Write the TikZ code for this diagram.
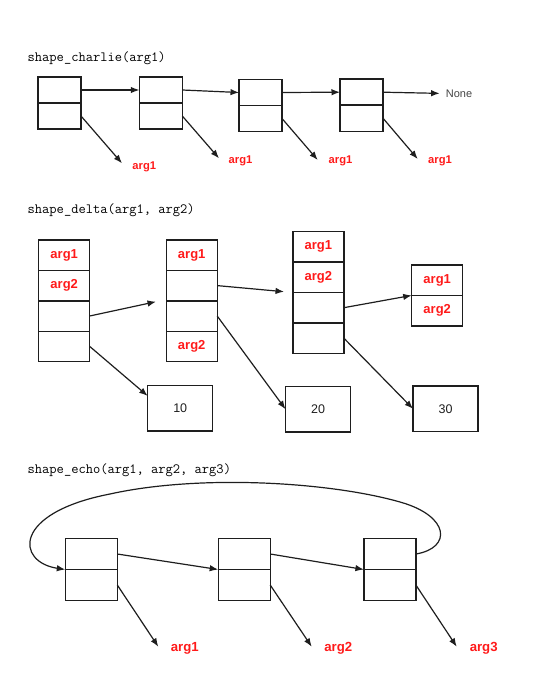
\documentclass[tikz,border=0pt]{standalone}
\usepackage{fontspec}
\setsansfont{Liberation Sans}
\usetikzlibrary{arrows.meta,calc}
\definecolor{ln}{HTML}{1E1E1E}
\definecolor{argred}{HTML}{FF1A1A}
\definecolor{nonegray}{HTML}{444444}
\begin{document}
\begin{tikzpicture}[x=1pt,y=-1pt,
  cell/.style={draw=ln, line width=1.4pt, inner sep=0pt, outer sep=0pt},
  cc/.style={cell, minimum width=43pt, minimum height=26pt},
  dc/.style={cell, minimum width=51pt, minimum height=30.4pt},
  ec/.style={cell, minimum width=52pt, minimum height=31pt},
  vbox/.style={cell, minimum width=65pt, minimum height=45.3pt, text=ln, font=\sffamily\fontsize{12.5}{14}\selectfont},
  arr/.style={draw=ln, line width=1.2pt, -{Latex[length=8.5pt,width=6.5pt]}},
  titletext/.style={anchor=base west, inner sep=0pt, font=\ttfamily\fontsize{14.1}{16}\selectfont},
  labc/.style={text=argred, inner sep=0pt, font=\sffamily\bfseries\fontsize{11.2}{12}\selectfont},
  labd/.style={text=argred, inner sep=0pt, font=\sffamily\bfseries\fontsize{13}{14}\selectfont},
  labe/.style={text=argred, inner sep=0pt, font=\sffamily\bfseries\fontsize{13.2}{14}\selectfont},
]
\useasboundingbox (0,0) rectangle (545,674);

% ---------------- shape_charlie ----------------
\node[titletext] (t1) at (27.5,62) {shape\_charlie(arg1)};
\node[cc] (c1a) at (59.5,90) {};
\node[cc] (c1b) at (59.5,116) {};
\node[cc] (c2a) at (160.8,90) {};
\node[cc] (c2b) at (160.8,116) {};
\node[cc] (c3a) at (260.5,92.5) {};
\node[cc] (c3b) at (260.5,118.5) {};
\node[cc] (c4a) at (361.5,92.2) {};
\node[cc] (c4b) at (361.5,118.2) {};
\node[inner sep=0pt, text=nonegray, font=\sffamily\fontsize{11}{12}\selectfont] (none) at (459,93.5) {None};

\node[labc] (lc1) at (144.3,166.5) {arg1};
\node[labc] (lc2) at (240.5,161) {arg1};
\node[labc] (lc3) at (340.5,160.5) {arg1};
\node[labc] (lc4) at (440,160.5) {arg1};
\coordinate (p1) at (122,163.3);
\coordinate (p2) at (219,158.3);
\coordinate (p3) at (317.7,160);
\coordinate (p4) at (417.7,159);

\draw[arr] (c1a.east) -- (c2a.west);
\draw[arr] (c2a.east) -- (c3a.west);
\draw[arr] (c3a.east) -- (c4a.west);
\draw[arr, shorten >=6pt] (c4a.east) -- (none.west);
\draw[arr] (c1b.east) -- (p1);
\draw[arr] (c2b.east) -- (p2);
\draw[arr] (c3b.east) -- (p3);
\draw[arr] (c4b.east) -- (p4);

% ---------------- shape_delta ----------------
\node[titletext] (t2) at (27.5,213.5) {shape\_delta(arg1, arg2)};
\node[dc, labd] (d1a) at (64.2,255.2) {arg1};
\node[dc, labd] (d1b) at (64.2,285.6) {arg2};
\node[dc] (d1c) at (64.2,316) {};
\node[dc] (d1d) at (64.2,346.4) {};

\node[dc, labd] (d2a) at (191.7,255.2) {arg1};
\node[dc] (d2b) at (191.7,285.6) {};
\node[dc] (d2c) at (191.7,316) {};
\node[dc, labd] (d2d) at (191.7,346.4) {arg2};

\node[dc, labd] (d3a) at (318.3,246.9) {arg1};
\node[dc, labd] (d3b) at (318.3,277.3) {arg2};
\node[dc] (d3c) at (318.3,307.7) {};
\node[dc] (d3d) at (318.3,338.1) {};

\node[dc, labd] (d4a) at (437.2,280.2) {arg1};
\node[dc, labd] (d4b) at (437.2,310.6) {arg2};

\node[vbox] (v10) at (180.2,408.4) {10};
\node[vbox] (v20) at (318,409.2) {20};
\node[vbox] (v30) at (445.5,408.8) {30};

\coordinate (q1) at (156,301.7);
\coordinate (q2) at (284,291.7);

\draw[arr] (d1c.east) -- (q1);
\draw[arr] (d1d.east) -- (v10.159);
\draw[arr] (d2b.east) -- (q2);
\draw[arr] (d2c.east) -- (v20.west);
\draw[arr] (d3c.east) -- (d4a.south west);
\draw[arr] (d3d.east) -- (v30.west);

% ---------------- shape_echo ----------------
\node[titletext] (t3) at (27.5,473.5) {shape\_echo(arg1, arg2, arg3)};
\node[ec] (e1a) at (91.3,554) {};
\node[ec] (e1b) at (91.3,585) {};
\node[ec] (e2a) at (244.2,554) {};
\node[ec] (e2b) at (244.2,585) {};
\node[ec] (e3a) at (389.9,554) {};
\node[ec] (e3b) at (389.9,585) {};

\node[labe] (le1) at (184.8,648) {arg1};
\node[labe] (le2) at (338.3,648) {arg2};
\node[labe] (le3) at (483.7,648) {arg3};
\coordinate (r1) at (158.3,646.7);
\coordinate (r2) at (311.7,646.7);
\coordinate (r3) at (456.7,646.7);

\draw[arr] (e1a.east) -- (e2a.south west);
\draw[arr] (e2a.east) -- (e3a.south west);
\draw[arr] (e3a.east) .. controls (452,548) and (450,516) .. (400,502)
  .. controls (330,482) and (200,474) .. (110,494)
  .. controls (12,513) and (16,562) .. (e1a.south west);
\draw[arr] (e1b.east) -- (r1);
\draw[arr] (e2b.east) -- (r2);
\draw[arr] (e3b.east) -- (r3);
\end{tikzpicture}
\end{document}
